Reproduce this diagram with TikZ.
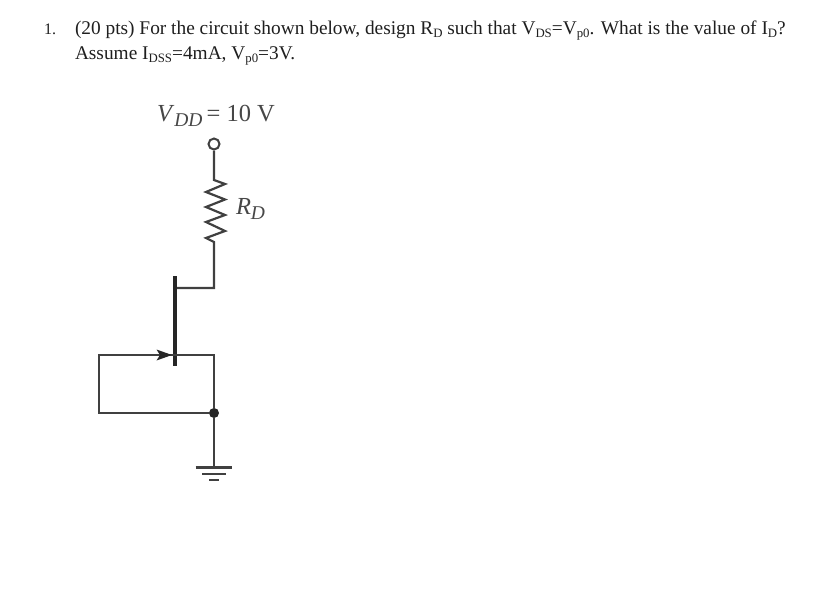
\documentclass[tikz,border=0pt]{standalone}
\usepackage{fontspec}
\setmainfont{Liberation Serif}
\usetikzlibrary{arrows.meta}
\newcommand{\sbs}[1]{\raisebox{-0.18em}{\fontsize{12.8pt}{13pt}\selectfont #1}}
\tikzset{
  wire/.style={line width=2pt,draw=black!75,line join=miter},
  txt/.style={anchor=base west,inner sep=0pt,outer sep=0pt,text=black!88,font=\fontsize{19.35pt}{22pt}\selectfont},
  lab/.style={anchor=base west,inner sep=0pt,outer sep=0pt,text=black!72,font=\fontsize{24.5pt}{27pt}\selectfont},
}
\begin{document}
\begin{tikzpicture}[x=1pt,y=-1pt]
\useasboundingbox (0,0) rectangle (838,611);
\fill[white] (0,0) rectangle (838,611);
\node[txt] (num) at (44,34) {\fontsize{16pt}{18pt}\selectfont 1.};
\node[txt] (line1) at (75,34) {(20 pts) For the circuit shown below, design R\sbs{D} such that V\sbs{DS}=V\sbs{p0}. What is the value of I\sbs{D}?};
\node[txt] (line2) at (75,59) {Assume I\sbs{DSS}=4mA, V\sbs{p0}=3V.};
\node[lab] (vdd) at (157,121) {\textit{V}\raisebox{-0.22em}{\fontsize{19.5pt}{20pt}\selectfont\textit{DD}}\,= 10 V};
\node[lab] (rd) at (236,214) {\textit{R}\raisebox{-0.22em}{\fontsize{19.5pt}{20pt}\selectfont\textit{D}}};

\node[circle,draw=black!75,line width=2pt,fill=white,minimum size=11pt,inner sep=0pt] (term) at (214,144) {};
\coordinate (ra) at (214,180);
\coordinate (rb) at (214,242);
\coordinate (dr) at (214,288);
\coordinate (dg) at (175,288);
\coordinate (st) at (175,276);
\coordinate (sb) at (175,366);
\coordinate (sg) at (175,355);
\coordinate (sc) at (214,355);
\coordinate (gl) at (98.5,355);
\coordinate (bl) at (98.5,413);
\node[circle,fill=black!85,minimum size=10pt,inner sep=0pt] (dot) at (214,413) {};
\coordinate (gnd) at (214,467.5);
\draw[wire,line width=2.2pt] (term) -- (ra) -- (225,184) -- (206,192) -- (225,199.5) -- (206,207) -- (225,215) -- (206,222) -- (225,231) -- (206,238) -- (rb) -- (dr) -- (dg);
\draw[line width=3.4pt,draw=black!85] (st) -- (sb);
\draw[wire] (sg) -- (sc) -- (dot);
\draw[wire] (sg) -- (gl) -- (bl) -- (dot);
\fill[black!85] (172,355) -- (156.5,349.5) -- (160,355) -- (156.5,360.5) -- cycle;
\draw[wire] (dot) -- (gnd);
\draw[wire,line width=2.6pt] (195.5,467.5) -- (232,467.5);
\draw[wire,line width=2.6pt] (202,474) -- (226,474);
\draw[wire,line width=2.6pt] (209,480) -- (219,480);
\end{tikzpicture}
\end{document}
